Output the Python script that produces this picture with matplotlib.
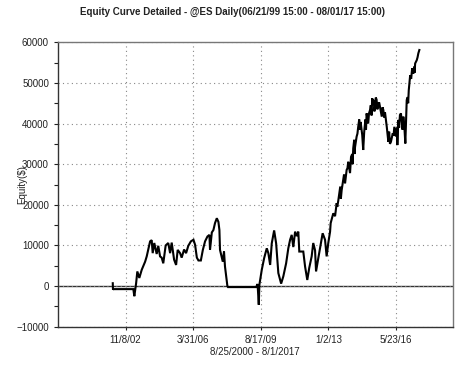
import datetime as dt
import matplotlib
matplotlib.use("Agg")
import matplotlib.pyplot as plt
from matplotlib.ticker import MultipleLocator

# DATA (x in decimal years, y in dollars)

years = [
    2002.21, 2002.22, 2002.24, 2003.24, 2003.29, 2003.38, 2003.44, 2003.54, 2003.66, 2003.83,
    2003.91, 2004.08, 2004.16, 2004.21, 2004.29, 2004.41, 2004.49, 2004.58, 2004.66, 2004.74,
    2004.86, 2004.99, 2005.08, 2005.16, 2005.28, 2005.38, 2005.46, 2005.58, 2005.66, 2005.78,
    2005.88, 2005.99, 2006.12, 2006.25, 2006.33, 2006.42, 2006.50, 2006.62, 2006.72, 2006.83,
    2006.95, 2007.05, 2007.08, 2007.17, 2007.25, 2007.33, 2007.42, 2007.50, 2007.55, 2007.58,
    2007.72, 2007.78, 2007.83, 2007.95, 2007.98, 2009.39, 2009.46, 2009.52, 2009.55, 2009.67,
    2009.79, 2009.92, 2010.00, 2010.09, 2010.17, 2010.29, 2010.39, 2010.50, 2010.64, 2010.75,
    2010.89, 2011.00, 2011.09, 2011.17, 2011.25, 2011.34, 2011.42, 2011.50, 2011.55, 2011.75,
    2011.84, 2011.95, 2012.05, 2012.17, 2012.25, 2012.34, 2012.39, 2012.50, 2012.62, 2012.72,
    2012.84, 2012.92, 2013.00, 2013.09, 2013.12, 2013.25, 2013.34, 2013.42,
    2013.45, 2013.50, 2013.55, 2013.60, 2013.63, 2013.67, 2013.75, 2013.79, 2013.84, 2013.92,
    2013.96, 2014.00, 2014.09, 2014.14, 2014.20, 2014.22, 2014.25, 2014.30, 2014.32, 2014.34,
    2014.42, 2014.46, 2014.50, 2014.55, 2014.58, 2014.62, 2014.70, 2014.75, 2014.80, 2014.86,
    2014.89, 2014.92, 2015.00, 2015.04, 2015.09, 2015.13, 2015.17, 2015.20, 2015.23, 2015.28,
    2015.31, 2015.34, 2015.38, 2015.42, 2015.46, 2015.50, 2015.55, 2015.59, 2015.68, 2015.72,
    2015.76, 2015.80, 2015.84, 2015.93, 2016.01, 2016.05, 2016.09, 2016.14, 2016.23, 2016.27,
    2016.31, 2016.39, 2016.44, 2016.46, 2016.51, 2016.55, 2016.59, 2016.64, 2016.68, 2016.72,
    2016.76, 2016.81, 2016.86, 2016.93, 2016.98, 2017.00, 2017.03, 2017.10, 2017.15, 2017.20,
    2017.26, 2017.30, 2017.32, 2017.35, 2017.43, 2017.47, 2017.51, 2017.56,
]

equity = [
    700, -900, -750, -750, -2500, 700, 3600, 2000, 4000, 6000,
    7300, 11000, 11300, 8100, 10600, 7900, 9900, 7300, 7000, 5600,
    10000, 10600, 8100, 10700, 6500, 5200, 8900, 8100, 7000, 9000,
    8100, 9900, 11000, 11400, 10200, 7000, 6300, 6300, 8900, 11000,
    12200, 12600, 8900, 13200, 13800, 15500, 16700, 15800, 13800, 8900,
    6000, 8500, 4800, 0, -250, -250, 500, -4600, 300, 4000,
    6900, 9300, 8100, 5200, 10500, 13700, 10500, 3200, 600, 2400,
    5600, 9300, 11400, 12600, 9600, 13400, 12300, 13400, 8500, 8500,
    4800, 1500, 4500, 7300, 10600, 8800, 3600, 6800, 10100, 13000,
    11400, 7300, 10600, 13400, 15500, 17900, 17200, 20400,
    19500, 21000, 22800, 24500, 21500, 23600, 26100, 27500, 25300, 28600,
    29000, 30600, 27800, 31800, 32500, 30000, 33900, 36000, 32500, 34200,
    36800, 37500, 39200, 41000, 38500, 40400, 37200, 33500, 38000, 41000,
    38500, 42500, 40000, 42500, 43300, 44500, 42000, 46200, 45400, 45800,
    43000, 44100, 46400, 45900, 43500, 44800, 45200, 44100, 41700, 44000,
    43300, 41500, 42800, 39200, 35500, 38000, 35000, 35500, 37600, 37000,
    39200, 36800, 39000, 34700, 40900, 39000, 42100, 42500, 40400, 38500,
    41700, 39400, 35100, 45800, 46500, 45000, 48200, 51900, 51000, 53600,
    52300, 54000, 52500, 54800, 55600, 56300, 57300, 58100,
]

tick_dates = ["2002-11-08", "2006-03-31", "2009-08-17", "2013-01-02", "2016-05-23"]
tick_labels = ["11/8/02", "3/31/06", "8/17/09", "1/2/13", "5/23/16"]

x_start = "1999-06-21"
x_end = "2019-04-01"

title = "Equity Curve Detailed - @ES Daily(06/21/99 15:00 - 08/01/17 15:00)"
ylabel = "Equity($)"
xlabel = "8/25/2000 - 8/1/2017"


def year_to_date(y):
    base = dt.datetime(int(y), 1, 1)
    return base + dt.timedelta(days=(y - int(y)) * 365.25)


def parse(s):
    return dt.datetime.strptime(s, "%Y-%m-%d")


# PLOT

plt.rcParams["font.family"] = ["Liberation Sans", "DejaVu Sans"]
text_color = "#222222"

fig = plt.figure(figsize=(4.74, 3.71), dpi=100)
ax = fig.add_axes([58 / 474, 44.3 / 371, (453 - 58) / 474, (326.7 - 42.3) / 371])

dates = [year_to_date(y) for y in years]
ax.plot(dates, equity, color="black", linewidth=1.5, solid_joinstyle="miter")
ax.axhline(0, color="#333333", linewidth=1.0, zorder=1)

ax.set_xlim(parse(x_start), parse(x_end))
ax.set_ylim(-10000, 60000)

ax.set_xticks([parse(d) for d in tick_dates])
ax.set_xticklabels(tick_labels)
ax.yaxis.set_major_locator(MultipleLocator(10000))
ax.yaxis.set_minor_locator(MultipleLocator(5000))

ax.grid(True, which="major", color="#888888", linestyle=(0, (1, 3)), linewidth=0.8)
ax.tick_params(axis="both", which="major", labelsize=7, colors=text_color, length=3, width=0.8)
ax.tick_params(axis="y", which="minor", length=3, width=0.8, color=text_color)
ax.tick_params(axis="x", which="major", length=2, pad=4)

for side in ["left", "bottom"]:
    ax.spines[side].set_color("#333333")
    ax.spines[side].set_linewidth(1.0)
for side in ["top", "right"]:
    ax.spines[side].set_color("#777777")
    ax.spines[side].set_linewidth(1.0)

fig.text(232 / 474, 1 - 12 / 371, title, ha="center", va="center",
         fontsize=7, fontweight="bold", color=text_color)
fig.text(22 / 474, 1 - 185 / 371, ylabel, ha="center", va="center",
         rotation=90, fontsize=7, color=text_color)
fig.text(255 / 474, 1 - 352 / 371, xlabel, ha="center", va="center",
         fontsize=7, color=text_color)

fig.savefig("out.png", dpi=100)
